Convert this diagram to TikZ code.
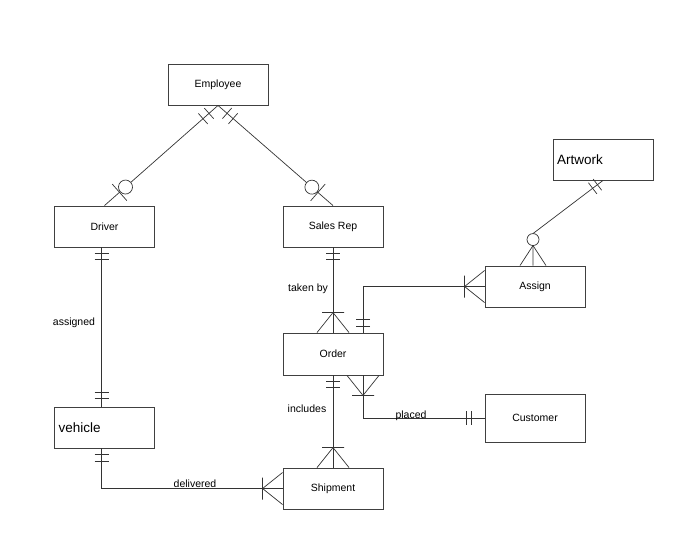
\documentclass[tikz,border=0pt]{standalone}
\usepackage{fontspec}
\setmainfont{Liberation Sans}
\usetikzlibrary{calc,decorations.markings}
\begin{document}
\begin{tikzpicture}[x=1pt,y=-1pt,
  ent/.style={draw=black!75,line width=0.9pt,minimum width=100pt,minimum height=41pt,inner sep=0pt,font=\fontsize{10.5}{12}\selectfont},
  rel/.style={draw=black!80,line width=0.7pt},
  lbl/.style={font=\fontsize{10.5}{12}\selectfont},
  bar/.style={postaction={decorate,decoration={markings,mark=at position #1 with {\draw[black!80,line width=0.7pt] (0pt,-7pt)--(0pt,7pt);}}}},
  crow/.style={postaction={decorate,decoration={markings,mark=at position -20pt with {\draw[black!80,line width=0.7pt] (20pt,-16pt)--(0pt,0pt)--(20pt,16pt) (0pt,-11pt)--(0pt,11pt);}}}},
  crowo/.style={postaction={decorate,decoration={markings,mark=at position -20pt with {\draw[black!80,line width=0.7pt] (20pt,-13pt)--(0pt,0pt)--(20pt,13pt);},mark=at position -26pt with {\draw[black!80,line width=0.7pt,fill=white] (0pt,0pt) circle (6pt);}}}},
  zone/.style={postaction={decorate,decoration={markings,mark=at position -28pt with {\draw[black!80,line width=0.7pt,fill=white] (0pt,0pt) circle (7pt);},mark=at position -20pt with {\draw[black!80,line width=0.7pt] (0pt,-11pt)--(0pt,11pt);}}}}
]
\useasboundingbox (0,0) rectangle (700,554);
\node[ent] (E) at (218,84.5) {Employee};
\node[ent] (D) at (104.5,226.5) {Driver};
\node[ent] (S) at (333,226.5) {Sales Rep};
\node[ent,font=\fontsize{13.5}{15}\selectfont,text width=92pt,align=left] (W) at (603,159.5) {Artwork};
\node[ent] (A) at (535,286.5) {Assign};
\node[ent,minimum height=42pt] (O) at (333,354) {Order};
\node[ent,minimum height=48pt] (C) at (535,418) {Customer};
\node[ent,font=\fontsize{13.5}{15}\selectfont,text width=92pt,align=left] (V) at (104.5,427.5) {vehicle};
\node[ent] (H) at (333,488.5) {Shipment};

\draw[rel,bar=12pt,bar=20pt,zone] (E.south) -- (D.north);
\draw[rel,bar=12pt,bar=20pt,zone] (E.south) -- (S.north);
\draw[rel,bar=7pt,bar=13pt,crowo] (W.south) -- ($(A.north)+(-2,-32)$) -- ($(A.north)+(-2,0)$);
\draw[rel,bar=6pt,bar=12pt,bar=-8pt,bar=-14pt] ($(D.south)+(-3,0)$) -- ($(V.north)+(-3,0)$);
\draw[rel,bar=6pt,bar=12pt,crow] (S.south) -- (O.north);
\draw[rel,bar=6pt,bar=12pt,crow] (O.south) -- (H.north);
\draw[rel,bar=6pt,bar=13pt,crow] ($(V.south)+(-3,0)$) |- (H.west);
\draw[rel,bar=6pt,bar=13pt,crow] ($(O.north)+(30,0)$) |- (A.west);
\draw[rel,bar=13pt,bar=18pt,crow] (C.west) -| ($(O.south)+(30,0)$);

\node[lbl] (l1) at (74,323) {assigned};
\node[lbl] (l2) at (195,484) {delivered};
\node[lbl] (l3) at (308,289) {taken by};
\node[lbl] (l4) at (307,409) {includes};
\node[lbl] (l5) at (411,416) {placed};
\end{tikzpicture}
\end{document}
